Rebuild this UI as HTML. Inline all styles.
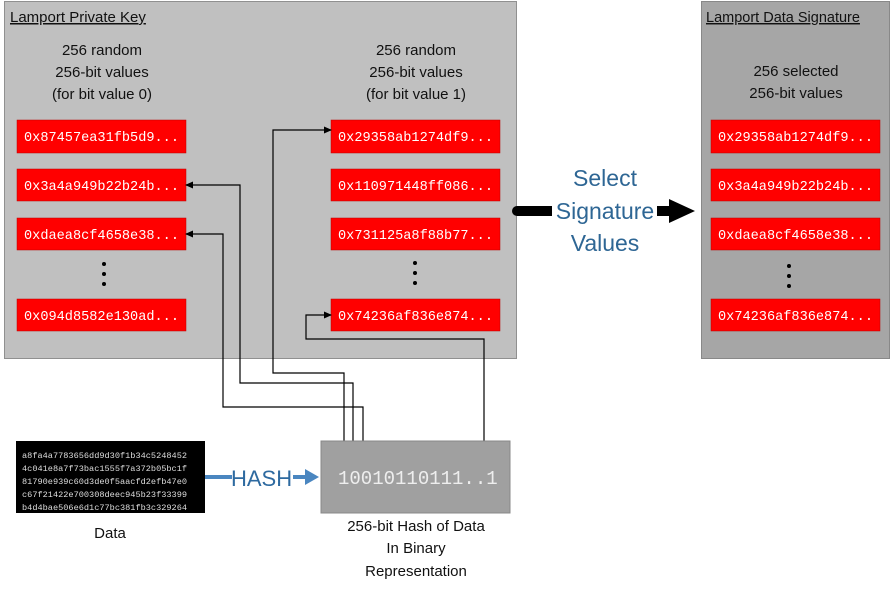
<!DOCTYPE html>
<html><head><meta charset="utf-8"><style>
body{margin:0;background:#fff;width:893px;height:590px;overflow:hidden}
svg{display:block}
.h{font-family:"Liberation Sans",sans-serif;font-size:15px;fill:#111}
.m{font-family:"Liberation Mono",monospace;font-size:13.6px;fill:#fff}
</style></head><body>
<svg width="893" height="590" viewBox="0 0 893 590">
<defs><marker id="a" markerWidth="8" markerHeight="8" refX="7" refY="4" orient="auto" markerUnits="userSpaceOnUse"><path d="M0,0.5 L8,4 L0,7.5z" fill="#000"/></marker></defs>
<rect x="4.5" y="1.5" width="512" height="357" fill="#c0c0c0" stroke="#909090"/>
<rect x="701.5" y="1.5" width="188" height="357" fill="#a6a6a6" stroke="#888"/>
<text class="h" x="10" y="22" text-decoration="underline">Lamport Private Key</text>
<text class="h" x="706" y="22" text-decoration="underline" style="font-size:14.5px">Lamport Data Signature</text>
<g class="h" text-anchor="middle">
<text x="102" y="55">256 random</text><text x="102" y="77">256-bit values</text><text x="102" y="99">(for bit value 0)</text>
<text x="416" y="55">256 random</text><text x="416" y="77">256-bit values</text><text x="416" y="99">(for bit value 1)</text>
<text x="796" y="76">256 selected</text><text x="796" y="98">256-bit values</text>
</g>
<g fill="#ff0000" stroke="#b00" stroke-width="0.5">
<rect x="17" y="120" width="169" height="33"/><rect x="17" y="169" width="169" height="32"/><rect x="17" y="218" width="169" height="32"/><rect x="17" y="299" width="169" height="32"/>
<rect x="331" y="120" width="169" height="33"/><rect x="331" y="169" width="169" height="32"/><rect x="331" y="218" width="169" height="32"/><rect x="331" y="299" width="169" height="32"/>
<rect x="711" y="120" width="169" height="33"/><rect x="711" y="169" width="169" height="32"/><rect x="711" y="218" width="169" height="32"/><rect x="711" y="299" width="169" height="32"/>
</g>
<g class="m">
<text x="24" y="141">0x87457ea31fb5d9...</text><text x="24" y="190">0x3a4a949b22b24b...</text><text x="24" y="239">0xdaea8cf4658e38...</text><text x="24" y="320">0x094d8582e130ad...</text>
<text x="338" y="141">0x29358ab1274df9...</text><text x="338" y="190">0x110971448ff086...</text><text x="338" y="239">0x731125a8f88b77...</text><text x="338" y="320">0x74236af836e874...</text>
<text x="718" y="141">0x29358ab1274df9...</text><text x="718" y="190">0x3a4a949b22b24b...</text><text x="718" y="239">0xdaea8cf4658e38...</text><text x="718" y="320">0x74236af836e874...</text>
</g>
<g fill="#000">
<circle cx="104" cy="264" r="2"/><circle cx="104" cy="274" r="2"/><circle cx="104" cy="284" r="2"/>
<circle cx="415" cy="263" r="2"/><circle cx="415" cy="273" r="2"/><circle cx="415" cy="283" r="2"/>
<circle cx="789" cy="266" r="2"/><circle cx="789" cy="276" r="2"/><circle cx="789" cy="286" r="2"/>
</g>
<g fill="none" stroke="#000" stroke-width="1.2">
<path d="M344,441 V373 H273 V130 H331" marker-end="url(#a)"/>
<path d="M353,441 V383 H240 V185 H186" marker-end="url(#a)"/>
<path d="M363,441 V407 H223 V234 H186" marker-end="url(#a)"/>
<path d="M484,441 V339 H306 V315 H331" marker-end="url(#a)"/>
</g>
<rect x="321" y="441" width="189" height="72" fill="#a0a0a0" stroke="#888"/>
<text x="338" y="484" style="font-family:'Liberation Mono',monospace;font-size:19px;fill:#eee">10010110111..1</text>
<rect x="16" y="441" width="189" height="72" fill="#000"/>
<g style="font-family:'Liberation Mono',monospace;font-size:8.6px;fill:#ddd">
<text x="22" y="458">a8fa4a7783656dd9d30f1b34c5248452</text>
<text x="22" y="471">4c041e8a7f73bac1555f7a372b05bc1f</text>
<text x="22" y="484">81790e939c60d3de0f5aacfd2efb47e0</text>
<text x="22" y="497">c67f21422e700308deec945b23f33399</text>
<text x="22" y="510">b4d4bae506e6d1c77bc381fb3c329264</text>
</g>
<line x1="205" y1="477" x2="232" y2="477" stroke="#4a86c0" stroke-width="4"/>
<text x="231" y="486" style="font-family:'Liberation Sans',sans-serif;font-size:22px;fill:#2e6aa0">HASH</text>
<path d="M293,475 H305 V469 L319,477 L305,485 V479 H293z" fill="#4a86c0"/>
<g class="h" text-anchor="middle">
<text x="110" y="538">Data</text>
<text x="416" y="531">256-bit Hash of Data</text><text x="416" y="553">In Binary</text><text x="416" y="576">Representation</text>
</g>
<path d="M517,206 H552 V216 H517 A5,5 0 0 1 517,206z" fill="#000"/>
<path d="M657,206 H669 V199 L695,211 L669,223 V216 H657z" fill="#000"/>
<g text-anchor="middle" style="font-family:'Liberation Sans',sans-serif;font-size:23px;fill:#2e6694">
<text x="605" y="186">Select</text><text x="605" y="219">Signature</text><text x="605" y="251">Values</text>
</g>
</svg>
</body></html>
